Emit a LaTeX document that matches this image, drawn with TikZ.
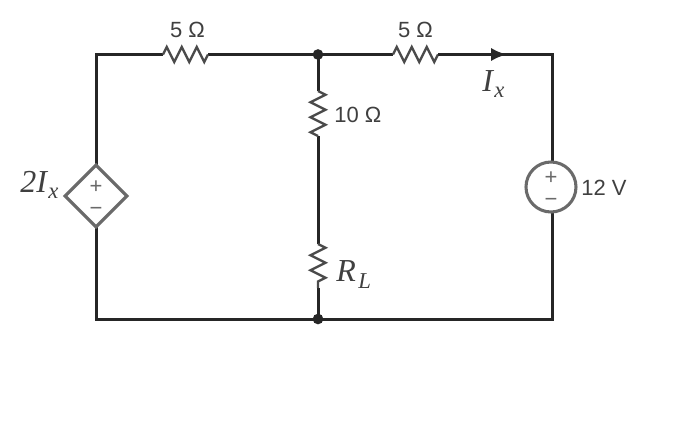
\documentclass[tikz,border=0pt]{standalone}
\usepackage{fontspec}
\setmainfont{Liberation Sans}
\newfontfamily\ital{Liberation Serif}[ItalicFont={Liberation Serif Italic}]
\usetikzlibrary{decorations.pathmorphing,arrows.meta,shapes.geometric}
\definecolor{wirec}{HTML}{262626}
\definecolor{srcc}{HTML}{6A6A6A}
\definecolor{txtc}{HTML}{404040}
\tikzset{
  wire/.style={draw=wirec,line width=2.25pt},
  res/.style={draw=srcc!70!black,line width=1.7pt,line join=miter,decorate,decoration={zigzag,segment length=15*0.75pt,amplitude=7.5*0.75pt}},
  srcshape/.style={draw=srcc,line width=2.3pt,fill=white,inner sep=0pt,minimum size=0pt},
  dot/.style={circle,fill=wirec,inner sep=0pt,minimum size=8pt},
  lab/.style={text=txtc,font=\fontsize{16.5}{18}\selectfont,inner sep=0pt},
  mathlab/.style={text=txtc,font=\ital\itshape\fontsize{24}{26}\selectfont,inner sep=0pt},
  sub/.style={text=txtc,font=\ital\itshape\fontsize{17}{19}\selectfont,inner sep=0pt},
  sign/.style={text=srcc,font=\fontsize{16.5}{16.5}\selectfont,inner sep=0pt,align=center}
}
\begin{document}
\begin{tikzpicture}[x=0.75pt,y=-0.75pt]
\useasboundingbox[fill=white] (0,0) rectangle (700,425);
% corners and junctions
\coordinate (tl) at (96,54.5);
\coordinate (tr) at (552,54.5);
\coordinate (bl) at (96,319);
\coordinate (br) at (552,319);
\coordinate (t) at (318,54.5);
\coordinate (b) at (318,319);
% resistor ends
\coordinate (r1a) at (163,54.5);
\coordinate (r1b) at (208,54.5);
\coordinate (r2a) at (393,54.5);
\coordinate (r2b) at (438,54.5);
\coordinate (r3a) at (318,91);
\coordinate (r3b) at (318,136);
\coordinate (r4a) at (318,244);
\coordinate (r4b) at (318,288);
\coordinate (arrowtip) at (507,54.5);
% wires
\draw[wire,line join=miter] (r1a) -- (tl) -- (bl) -- (br) -- (tr) -- (r2b);
\draw[wire] (r1b) -- (t) -- (r2a);
\draw[wire] (t) -- (r3a);
\draw[wire] (r3b) -- (r4a);
\draw[wire] (r4b) -- (b);
% resistors
\path[res] (r1a) -- (r1b);
\path[res] (r2a) -- (r2b);
\path[res] (r3a) -- (r3b);
\path[res] (r4a) -- (r4b);
% current arrow
\draw[wirec,line width=2.25pt,-{Latex[length=12pt,width=10pt]}] (r2b) -- (arrowtip);
% sources
\node[srcshape,diamond,aspect=1,minimum width=63*0.75pt,minimum height=63*0.75pt] (dep) at (96,196) {};
\node[srcshape,circle,minimum size=50*0.75pt] (vs) at (551,187) {};
\node[sign,anchor=base] (ds) at (96,215) {+\\\char"2212};
\node[sign,anchor=base] (vsg) at (551,206) {+\\\char"2212};
% dots
\node[dot] (jt) at (t) {};
\node[dot] (jb) at (b) {};
% labels
\node[lab] (l1) at (187.5,29.5) {5 Ω};
\node[lab] (l2) at (415.5,29.5) {5 Ω};
\node[lab,anchor=west] (l3) at (334,115) {10 Ω};
\node[lab,anchor=west] (l4) at (581,188) {12 V};
\node[mathlab,anchor=base west] (i1) at (20,192) {2I};
\node[sub,anchor=base west] (i1s) at (48,198) {x};
\node[mathlab,anchor=base west] (i2) at (482,91) {I};
\node[sub,anchor=base west] (i2s) at (494,97) {x};
\node[mathlab,anchor=base west] (rl) at (336,281) {R};
\node[sub,anchor=base west] (rls) at (358,288) {L};
\end{tikzpicture}
\end{document}
